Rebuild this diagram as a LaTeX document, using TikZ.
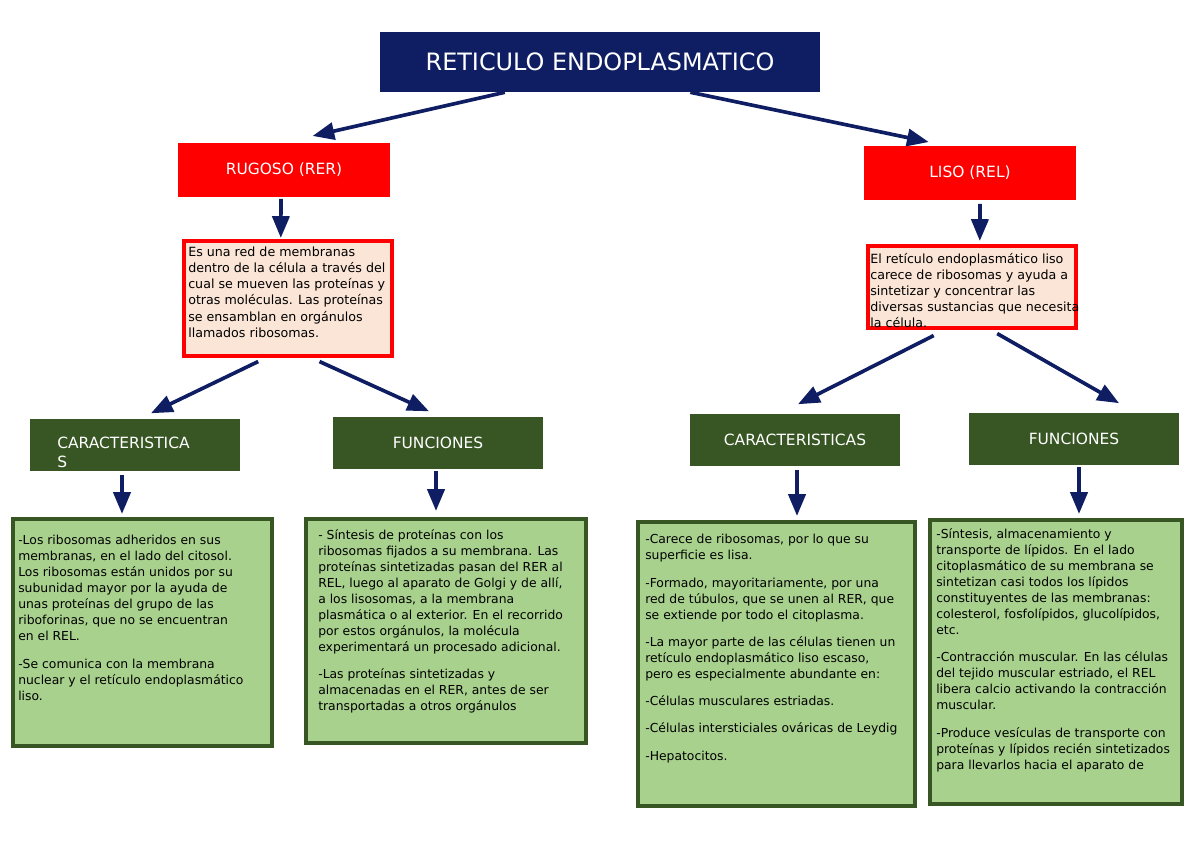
\documentclass[tikz,border=0pt]{standalone}
\usepackage{fontspec}
\setmainfont{DejaVu Sans}
\usetikzlibrary{calc,arrows,positioning}
\definecolor{navy}{HTML}{0F1E62}
\definecolor{redbox}{HTML}{FF0000}
\definecolor{peach}{HTML}{FBE5D6}
\definecolor{dgreen}{HTML}{375623}
\definecolor{lgreen}{HTML}{A9D18E}
\begin{document}
\begin{tikzpicture}[x=0.025cm,y=-0.025cm]

  % Styles
  \tikzstyle{title}=[fill=navy,text=white,minimum width=11cm,minimum height=1.5cm,font=\fontsize{17}{19}\selectfont]
  \tikzstyle{kind}=[fill=redbox,text=white,minimum width=5.275cm,minimum height=1.325cm,font=\fontsize{11}{13}\selectfont]
  \tikzstyle{desc}=[draw=redbox,line width=2.5pt,fill=peach,minimum width=5.2cm,anchor=north west]
  \tikzstyle{head}=[fill=dgreen,text=white,minimum width=5.25cm,minimum height=1.3cm,font=\fontsize{11}{13}\selectfont]
  \tikzstyle{card}=[draw=dgreen,line width=3pt,fill=lgreen,anchor=north west]
  \tikzstyle{txt}=[anchor=north west,inner sep=0pt,align=left,font=\fontsize{8.8}{11.4}\selectfont]
  \tikzstyle{to}=[-triangle 45,line width=2.6pt,draw=navy,shorten >=1pt]

  \useasboundingbox (0,0) rectangle (1200,849);

  % Top
  \node[title] (re) at (600,62) {RETICULO ENDOPLASMATICO};
  \node[kind] (rer) at (284,170) {RUGOSO (RER)};
  \node[kind] (rel) at (970,173) {LISO (REL)};

  % Descriptions
  \node[desc,minimum height=2.875cm] (rerd) at (182,239) {};
  \node[txt,font=\fontsize{9}{11.4}\selectfont] (rerdt) at ($(rerd.north west)+(6,8)$) {Es una red de membranas\\dentro de la célula a través del\\cual se mueven las proteínas y\\otras moléculas. Las proteínas\\se ensamblan en orgánulos\\llamados ribosomas.};
  \node[desc,minimum height=2.05cm] (reld) at (866,244) {};
  \node[txt,font=\fontsize{9}{11.4}\selectfont] (reldt) at ($(reld.north west)+(4,9)$) {El retículo endoplasmático liso\\carece de ribosomas y ayuda a\\sintetizar y concentrar las\\diversas sustancias que necesita\\la célula.};

  % Headings
  \node[head] (carl) at (135,445) {};
  \node[anchor=north west,text=white,inner sep=0pt,font=\fontsize{11}{13}\selectfont,align=left] (carlt) at (57,437) {CARACTERISTICA\\S};
  \node[head] (funl) at (438,443) {FUNCIONES};
  \node[head] (carr) at (795,440) {CARACTERISTICAS};
  \node[head] (funr) at (1074,439) {FUNCIONES};

  % Cards
  \node[card,minimum width=6.475cm,minimum height=5.675cm] (c1) at (11,517) {};
  \node[card,minimum width=7cm,minimum height=5.6cm] (c2) at (304,517) {};
  \node[card,minimum width=6.925cm,minimum height=7.1cm] (c3) at (636,520) {};
  \node[card,minimum width=6.3cm,minimum height=7.1cm] (c4) at (928,518) {};

  \node[txt] (c1t) at ($(c1.north west)+(7,18)$) {-Los ribosomas adheridos en sus\\membranas, en el lado del citosol.\\Los ribosomas están unidos por su\\subunidad mayor por la ayuda de\\unas proteínas del grupo de las\\riboforinas, que no se encuentran\\en el REL.\\[8pt]-Se comunica con la membrana\\nuclear y el retículo endoplasmático\\liso.};
  \node[txt] (c2t) at ($(c2.north west)+(14,12)$) {- Síntesis de proteínas con los\\ribosomas fijados a su membrana. Las\\proteínas sintetizadas pasan del RER al\\REL, luego al aparato de Golgi y de allí,\\a los lisosomas, a la membrana\\plasmática o al exterior. En el recorrido\\por estos orgánulos, la molécula\\experimentará un procesado adicional.\\[8pt]-Las proteínas sintetizadas y\\almacenadas en el RER, antes de ser\\transportadas a otros orgánulos};
  \node[txt] (c3t) at ($(c3.north west)+(9,14)$) {-Carece de ribosomas, por lo que su\\superficie es lisa.\\[8pt]-Formado, mayoritariamente, por una\\red de túbulos, que se unen al RER, que\\se extiende por todo el citoplasma.\\[8pt]-La mayor parte de las células tienen un\\retículo endoplasmático liso escaso,\\pero es especialmente abundante en:\\[8pt]-Células musculares estriadas.\\[8pt]-Células intersticiales ováricas de Leydig\\[8pt]-Hepatocitos.};
  \node[txt] (c4t) at ($(c4.north west)+(8,10)$) {-Síntesis, almacenamiento y\\transporte de lípidos. En el lado\\citoplasmático de su membrana se\\sintetizan casi todos los lípidos\\constituyentes de las membranas:\\colesterol, fosfolípidos, glucolípidos,\\etc.\\[8pt]-Contracción muscular. En las células\\del tejido muscular estriado, el REL\\libera calcio activando la contracción\\muscular.\\[8pt]-Produce vesículas de transporte con\\proteínas y lípidos recién sintetizados\\para llevarlos hacia el aparato de};

  % Arrows
  \draw[to] ($(re.south west)!0.284!(re.south east)$) -- ($(rer.north west)!0.63!(rer.north east)+(0,-7)$);
  \draw[to] ($(re.south west)!0.705!(re.south east)$) -- ($(rel.north west)!0.31!(rel.north east)+(0,-4)$);
  \draw[to] ($(rer.south)+(-3,2)$) -- ($(rerd.north)+(-7,0)$);
  \draw[to] ($(rel.south)+(10,4)$) -- ($(reld.north)+(8,-2)$);
  \draw[to] ($(rerd.south west)!0.36!(rerd.south east)+(0,4)$) -- ($(carl.north)+(15,-5)$);
  \draw[to] ($(rerd.south west)!0.65!(rerd.south east)+(0,4)$) -- ($(funl.north)+(-8,-5)$);
  \draw[to] ($(reld.south west)!0.32!(reld.south east)+(0,6)$) -- ($(carr.north)+(2,-9)$);
  \draw[to] ($(reld.south west)!0.62!(reld.south east)+(0,4)$) -- ($(funr.north)+(46,-9)$);
  \draw[to] ($(carl.south)+(-13,4)$) -- ($(c1.north west)+(111,-2)$);
  \draw[to] ($(funl.south)+(-2,2)$) -- ($(c2.north west)+(132,-5)$);
  \draw[to] ($(carr.south)+(2,4)$) -- ($(c3.north west)+(161,-3)$);
  \draw[to] ($(funr.south)+(5,2)$) -- ($(c4.north west)+(151,-3)$);

\end{tikzpicture}
\end{document}
